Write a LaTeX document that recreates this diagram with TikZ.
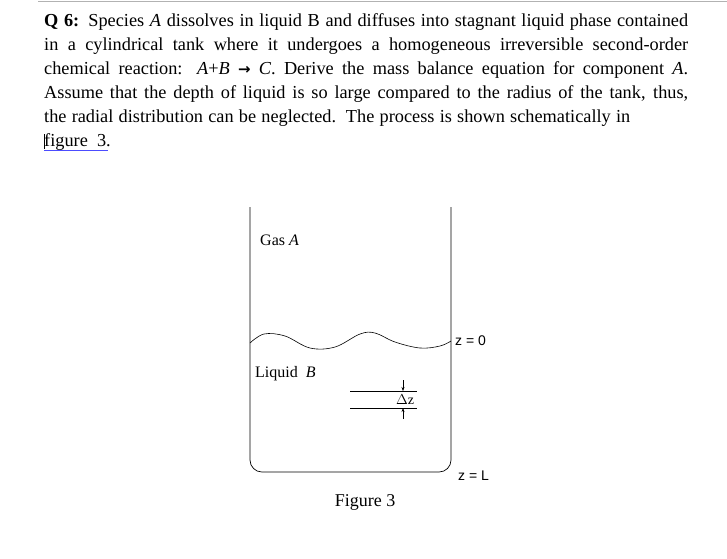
\documentclass[tikz,border=0pt]{standalone}
\usepackage{fontspec}
\usetikzlibrary{arrows.meta}
\setmainfont{Liberation Serif}
\newfontfamily\arialf{Liberation Sans}
\newfontfamily\arrf{DejaVu Sans}
\begin{document}
\begin{tikzpicture}[x=1pt,y=-1pt,
  para/.style={anchor=base west,inner sep=0pt,font=\fontsize{18.3}{20}\selectfont},
  lbl/.style={inner sep=0pt,font=\fontsize{16}{18}\selectfont},
  zl/.style={anchor=west,inner sep=0pt,font=\arialf\fontsize{14}{16}\selectfont}]
\useasboundingbox (0,0) rectangle (727,558);
\draw[gray!60,line width=1.5pt] (38,1.5) -- (727,1.5);
\newcommand{\jline}[2][644pt]{\hbox to #1{\spaceskip=0.2em plus 1fil\relax #2}}
\node[para] (l1) at (44,26) {\jline{\textbf{Q 6:} Species \textit{A} dissolves in liquid B and diffuses into stagnant liquid phase contained}};
\node[para] (l2) at (44,50) {\jline{in a cylindrical tank where it undergoes a homogeneous irreversible second-order}};
\node[para] (l3) at (44,74) {\jline{chemical reaction: \textit{A}+\textit{B} {\arrf\bfseries\fontsize{15}{16}\selectfont →} \textit{C}. Derive the mass balance equation for component \textit{A}.}};
\node[para] (l4) at (44,98) {\jline{Assume that the depth of liquid is so large compared to the radius of the tank, thus,}};
\node[para] (l5) at (44,122) {\jline[586pt]{the radial distribution can be neglected. The process is shown schematically in}};
\node[para] (l6) at (44,146) {figure\ \ 3.};
\draw[blue!70,line width=0.6pt] (44,150) -- (108,150);
\draw[line width=0.8pt] (44.5,134) -- (44.5,149);
% tank
\draw[line width=0.7pt] (250,207) -- (250,460) to[out=-90,in=180] (262,472) -- (439,472) to[out=0,in=-90] (451,460) -- (451,207);
\draw[line width=0.6pt] plot[smooth,tension=0.6] coordinates {(250,343) (264,334) (285,336) (310,348) (335,347) (360,334) (375,333) (395,342) (420,348) (440,346) (451,341)};
\node[lbl,anchor=west] (gas) at (260,240) {Gas \textit{A}};
\node[lbl,anchor=west] (liq) at (255,374) {Liquid\ \ \textit{B}};
\node[zl] (z0) at (455,341) {z = 0};
\node[zl] (zL) at (458,476) {z = L};
\coordinate (s1a) at (350,391); \coordinate (s1b) at (417,391);
\coordinate (s2a) at (350,408); \coordinate (s2b) at (417,408);
\draw[line width=0.6pt] (s1a) -- (s1b) (s2a) -- (s2b);
\node[lbl,font=\fontsize{14}{16}\selectfont] (dz) at (405,399.5) {$\Delta$z};
\coordinate (t1) at (403,380); \coordinate (t2) at (403,391);
\coordinate (b1) at (403,419); \coordinate (b2) at (403,408);
\draw[-{Stealth[length=4pt,width=3pt]},line width=0.5pt] (t1) -- (t2);
\draw[-{Stealth[length=4pt,width=3pt]},line width=0.5pt] (b1) -- (b2);
\node[lbl,font=\fontsize{18}{20}\selectfont] (fig) at (365,502) {Figure 3};
\end{tikzpicture}
\end{document}
